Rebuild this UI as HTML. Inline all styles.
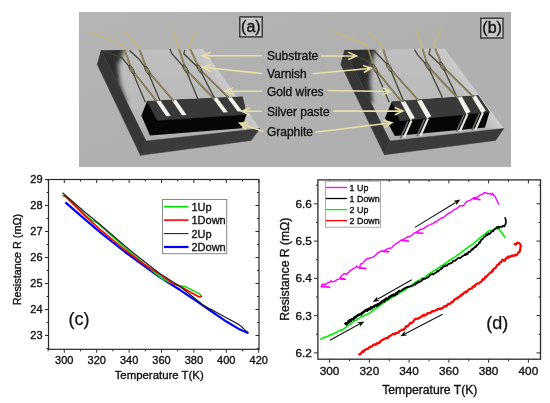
<!DOCTYPE html>
<html><head><meta charset="utf-8"><style>
html,body{margin:0;padding:0;background:#fff;width:550px;height:403px;overflow:hidden}
svg{position:absolute;left:0;top:0;display:block}
text{font-family:"Liberation Sans",Arial,sans-serif;fill:#111;stroke:#111;stroke-width:0.35px}
.tc{font-size:11px}
.tc2{font-size:10.8px}
.tc3{font-size:11.4px}
.td{font-size:11.8px}
.td2{font-size:12.2px}
.tl{font-size:8.9px}
.lab{font-size:18px;stroke-width:0.25px}
.tt{font-size:12px;fill:#151515}
.tb{font-size:16px;fill:#111}
</style></head><body>
<svg width="550" height="403" viewBox="0 0 550 403">
<defs>
<linearGradient id="bg" x1="0" y1="0" x2="1" y2="1">
<stop offset="0" stop-color="#b5b5b5"/><stop offset="0.5" stop-color="#b0b0b0"/><stop offset="1" stop-color="#b0b0b0"/>
</linearGradient>
<linearGradient id="topA" gradientUnits="userSpaceOnUse" x1="112" y1="98" x2="140" y2="86">
<stop offset="0" stop-color="#262626"/><stop offset="0.25" stop-color="#3a3a3a"/><stop offset="1" stop-color="#c3c3c3"/>
</linearGradient>
<linearGradient id="topB" gradientUnits="userSpaceOnUse" x1="357" y1="98" x2="385" y2="86">
<stop offset="0" stop-color="#262626"/><stop offset="0.25" stop-color="#3a3a3a"/><stop offset="1" stop-color="#c3c3c3"/>
</linearGradient>
<filter id="bl" x="-50%" y="-50%" width="200%" height="200%"><feGaussianBlur stdDeviation="2.2"/></filter>
<linearGradient id="tf" gradientUnits="userSpaceOnUse" x1="0" y1="50" x2="0" y2="142"><stop offset="0" stop-color="#bfbfbf"/><stop offset="0.6" stop-color="#bababa"/><stop offset="1" stop-color="#adadad"/></linearGradient>
<linearGradient id="lf" x1="0" y1="0" x2="1" y2="0">
<stop offset="0" stop-color="#474747"/><stop offset="1" stop-color="#333"/>
</linearGradient>
</defs>
<rect x="79" y="12" width="432" height="155" fill="url(#bg)"/>
<clipPath id="ca"><polygon points="101.2,50.3 203.0,49.0 259.9,128.6 146.0,141.0"/></clipPath>
<polygon points="101.2,50.3 203.0,49.0 259.9,128.6 146.0,141.0" fill="url(#tf)" stroke="#b8b8b8" stroke-width="0.4"/>
<linearGradient id="cag" gradientUnits="userSpaceOnUse" x1="189" y1="59" x2="205" y2="48"><stop offset="0" stop-color="#c8c8c8" stop-opacity="0"/><stop offset="1" stop-color="#cdcdcd" stop-opacity="1"/></linearGradient>
<g clip-path="url(#ca)"><polygon points="203.0,49.0 259.9,128.6 219.9,128.6 163.0,49.0" fill="url(#cag)"/>
<polygon points="90.0,44.0 126.0,44.0 122.0,56.0 118.0,65.0 120.0,83.0 124.0,95.0 127.0,103.0 110.0,103.0" fill="#2e2e2e" filter="url(#bl)"/></g>
<polygon points="101.2,50.3 97.4,64.6 140.5,155.3 146.0,141.0" fill="#363636" stroke="#363636" stroke-width="0.7" stroke-linejoin="round"/>
<polygon points="146.0,141.0 259.9,128.6 251.0,140.5 140.5,155.3" fill="#3b3b3b" stroke="#3b3b3b" stroke-width="0.5" stroke-linejoin="round"/>
<clipPath id="cb"><polygon points="344.7,50.1 444.5,48.5 503.8,128.5 389.8,141.0"/></clipPath>
<polygon points="344.7,50.1 444.5,48.5 503.8,128.5 389.8,141.0" fill="url(#tf)" stroke="#b8b8b8" stroke-width="0.4"/>
<linearGradient id="cbg" gradientUnits="userSpaceOnUse" x1="430.5" y1="58.5" x2="446.5" y2="47.5"><stop offset="0" stop-color="#c8c8c8" stop-opacity="0"/><stop offset="1" stop-color="#cdcdcd" stop-opacity="1"/></linearGradient>
<g clip-path="url(#cb)"><polygon points="444.5,48.5 503.8,128.5 463.8,128.5 404.5,48.5" fill="url(#cbg)"/>
<polygon points="334.0,44.0 376.0,44.0 374.0,56.0 371.0,66.0 370.0,83.0 372.0,95.0 373.0,103.0 354.0,103.0" fill="#2e2e2e" filter="url(#bl)"/></g>
<polygon points="344.7,50.1 341.0,64.6 384.5,154.8 389.8,141.0" fill="#363636" stroke="#363636" stroke-width="0.7" stroke-linejoin="round"/>
<polygon points="389.8,141.0 503.8,128.5 495.6,140.4 384.5,154.8" fill="#3b3b3b" stroke="#3b3b3b" stroke-width="0.5" stroke-linejoin="round"/>
<polygon points="147.0,101.2 242.5,96.8 246.5,114.6 241.7,128.2 150.0,135.6 141.4,115.8" fill="#060606"/>
<polygon points="147.0,101.2 242.5,96.8 246.5,114.6 157.3,120.3" fill="#393939" stroke="#393939" stroke-width="0.4" stroke-linejoin="round"/>
<polygon points="391.8,101.8 478.2,95.5 489.5,112.0 485.0,127.5 394.9,135.9 385.0,117.9" fill="#060606"/>
<polygon points="391.8,101.8 478.2,95.5 489.5,112.0 399.8,121.0" fill="#393939" stroke="#393939" stroke-width="0.4" stroke-linejoin="round"/>
<polygon points="155.8,100.8 160.4,100.6 170.8,116.0 166.2,116.3" fill="#f2f2ec"/>
<polygon points="171.6,100.1 176.2,99.9 186.6,114.9 182.0,115.3" fill="#f2f2ec"/>
<polygon points="212.8,98.2 217.4,98.0 227.9,112.2 223.3,112.5" fill="#f2f2ec"/>
<polygon points="227.2,97.5 231.8,97.3 242.3,111.2 237.7,111.5" fill="#f2f2ec"/>
<polygon points="400.7,102.0 405.1,100.9 414.9,117.9 410.5,120.1" fill="#f2f2ec"/>
<polygon points="417.1,100.9 421.5,99.8 431.3,116.2 426.9,118.4" fill="#f2f2ec"/>
<polygon points="457.5,97.6 461.8,96.5 470.5,111.8 466.2,114.0" fill="#f2f2ec"/>
<polygon points="471.6,96.5 476.0,95.5 485.8,110.7 481.5,112.9" fill="#f2f2ec"/>
<path d="M411.5,120.5l-7.5,17" stroke="#e8e8e2" stroke-width="2.1"/>
<path d="M408.0,121.3l-7.5,17" stroke="#6a6a6a" stroke-width="1.6"/>
<path d="M428.0,118.5l-7.5,17" stroke="#e8e8e2" stroke-width="2.1"/>
<path d="M424.5,119.3l-7.5,17" stroke="#6a6a6a" stroke-width="1.6"/>
<path d="M467.5,114.0l-7.5,17" stroke="#e8e8e2" stroke-width="2.1"/>
<path d="M464.0,114.8l-7.5,17" stroke="#6a6a6a" stroke-width="1.6"/>
<path d="M483.0,112.5l-7.5,17" stroke="#e8e8e2" stroke-width="2.1"/>
<path d="M479.5,113.3l-7.5,17" stroke="#6a6a6a" stroke-width="1.6"/>
<polyline points="102.0,50.5 122.1,57.9 131.6,69.5 145.3,102.2" fill="none" stroke="#45443a" stroke-width="1.3"/>
<polyline points="129.5,50.5 139.0,58.9 147.4,70.5 160.1,101.1" fill="none" stroke="#45443a" stroke-width="1.3"/>
<polyline points="169.9,48.8 171.9,53.7 185.5,69.0 197.7,98.4" fill="none" stroke="#45443a" stroke-width="1.3"/>
<polyline points="184.8,49.8 183.8,53.7 199.5,69.0 214.6,98.4" fill="none" stroke="#45443a" stroke-width="1.3"/>
<polyline points="345.6,50.8 369.1,61.9 374.7,68.6 389.2,102.2" fill="none" stroke="#45443a" stroke-width="1.3"/>
<polyline points="373.6,50.3 389.2,66.4 403.7,101.5" fill="none" stroke="#45443a" stroke-width="1.3"/>
<polyline points="414.5,49.6 417.9,55.2 427.9,66.4 442.5,97.7" fill="none" stroke="#45443a" stroke-width="1.3"/>
<polyline points="430.2,48.5 429.0,54.1 442.5,66.4 457.0,97.0" fill="none" stroke="#45443a" stroke-width="1.3"/>
<polyline points="87.3,30.9 123.1,45.2 131.6,69.5 156.9,101.5" fill="none" stroke="#c4b67e" stroke-width="1.5" stroke-linejoin="round"/>
<polyline points="123.1,30.9 137.9,45.2 147.4,70.5 173.8,101.0" fill="none" stroke="#c4b67e" stroke-width="1.5" stroke-linejoin="round"/>
<polyline points="172.9,29.9 185.5,69.0 213.6,98.4" fill="none" stroke="#c4b67e" stroke-width="1.5" stroke-linejoin="round"/>
<polyline points="197.7,29.9 188.8,45.8 199.5,69.0 228.5,97.6" fill="none" stroke="#c4b67e" stroke-width="1.5" stroke-linejoin="round"/>
<polyline points="331.1,30.2 366.9,45.2 374.7,68.6 401.5,101.5" fill="none" stroke="#c4b67e" stroke-width="1.5" stroke-linejoin="round"/>
<polyline points="366.9,30.2 381.4,44.0 389.2,67.5 418.5,100.5" fill="none" stroke="#c4b67e" stroke-width="1.5" stroke-linejoin="round"/>
<polyline points="416.8,30.2 427.9,66.4 458.1,98.3" fill="none" stroke="#c4b67e" stroke-width="1.5" stroke-linejoin="round"/>
<polyline points="441.3,30.2 433.5,44.0 442.5,66.4 473.7,97.2" fill="none" stroke="#c4b67e" stroke-width="1.5" stroke-linejoin="round"/>
<g clip-path="url(#ca)">
<polyline points="87.3,30.9 123.1,45.2 131.6,69.5 156.9,101.5" fill="none" stroke="#635d47" stroke-width="1.7" stroke-linejoin="round"/>
<polyline points="87.3,30.9 123.1,45.2 131.6,69.5 156.9,101.5" fill="none" stroke="#b2a571" stroke-width="0.7" stroke-linejoin="round"/>
<polyline points="123.1,30.9 137.9,45.2 147.4,70.5 173.8,101.0" fill="none" stroke="#635d47" stroke-width="1.7" stroke-linejoin="round"/>
<polyline points="123.1,30.9 137.9,45.2 147.4,70.5 173.8,101.0" fill="none" stroke="#b2a571" stroke-width="0.7" stroke-linejoin="round"/>
<polyline points="172.9,29.9 185.5,69.0 213.6,98.4" fill="none" stroke="#635d47" stroke-width="1.7" stroke-linejoin="round"/>
<polyline points="172.9,29.9 185.5,69.0 213.6,98.4" fill="none" stroke="#b2a571" stroke-width="0.7" stroke-linejoin="round"/>
<polyline points="197.7,29.9 188.8,45.8 199.5,69.0 228.5,97.6" fill="none" stroke="#635d47" stroke-width="1.7" stroke-linejoin="round"/>
<polyline points="197.7,29.9 188.8,45.8 199.5,69.0 228.5,97.6" fill="none" stroke="#b2a571" stroke-width="0.7" stroke-linejoin="round"/>
</g>
<g clip-path="url(#cb)">
<polyline points="331.1,30.2 366.9,45.2 374.7,68.6 401.5,101.5" fill="none" stroke="#635d47" stroke-width="1.7" stroke-linejoin="round"/>
<polyline points="331.1,30.2 366.9,45.2 374.7,68.6 401.5,101.5" fill="none" stroke="#b2a571" stroke-width="0.7" stroke-linejoin="round"/>
<polyline points="366.9,30.2 381.4,44.0 389.2,67.5 418.5,100.5" fill="none" stroke="#635d47" stroke-width="1.7" stroke-linejoin="round"/>
<polyline points="366.9,30.2 381.4,44.0 389.2,67.5 418.5,100.5" fill="none" stroke="#b2a571" stroke-width="0.7" stroke-linejoin="round"/>
<polyline points="416.8,30.2 427.9,66.4 458.1,98.3" fill="none" stroke="#635d47" stroke-width="1.7" stroke-linejoin="round"/>
<polyline points="416.8,30.2 427.9,66.4 458.1,98.3" fill="none" stroke="#b2a571" stroke-width="0.7" stroke-linejoin="round"/>
<polyline points="441.3,30.2 433.5,44.0 442.5,66.4 473.7,97.2" fill="none" stroke="#635d47" stroke-width="1.7" stroke-linejoin="round"/>
<polyline points="441.3,30.2 433.5,44.0 442.5,66.4 473.7,97.2" fill="none" stroke="#b2a571" stroke-width="0.7" stroke-linejoin="round"/>
</g>
<ellipse cx="131.6" cy="69.5" rx="5" ry="1.7" transform="rotate(60 131.6 69.5)" fill="none" stroke="#45443a" stroke-width="0.8"/>
<ellipse cx="147.4" cy="70.5" rx="5" ry="1.7" transform="rotate(60 147.4 70.5)" fill="none" stroke="#45443a" stroke-width="0.8"/>
<ellipse cx="185.5" cy="69" rx="5" ry="1.7" transform="rotate(60 185.5 69)" fill="none" stroke="#45443a" stroke-width="0.8"/>
<ellipse cx="199.5" cy="69" rx="5" ry="1.7" transform="rotate(60 199.5 69)" fill="none" stroke="#45443a" stroke-width="0.8"/>
<ellipse cx="374.7" cy="68.6" rx="5" ry="1.7" transform="rotate(60 374.7 68.6)" fill="none" stroke="#45443a" stroke-width="0.8"/>
<ellipse cx="389.2" cy="67.5" rx="5" ry="1.7" transform="rotate(60 389.2 67.5)" fill="none" stroke="#45443a" stroke-width="0.8"/>
<ellipse cx="427.9" cy="66.4" rx="5" ry="1.7" transform="rotate(60 427.9 66.4)" fill="none" stroke="#45443a" stroke-width="0.8"/>
<ellipse cx="442.5" cy="66.4" rx="5" ry="1.7" transform="rotate(60 442.5 66.4)" fill="none" stroke="#45443a" stroke-width="0.8"/>
<path d="M262.0,55.8L202.5,55.8M210.5,52.2L202.5,55.8L210.5,59.4" stroke="#e9dfa8" stroke-width="1.55" fill="none" stroke-linejoin="miter"/>
<path d="M262.0,73.5L202.7,67.2M211.0,64.5L202.7,67.2L210.3,71.6" stroke="#e9dfa8" stroke-width="1.55" fill="none" stroke-linejoin="miter"/>
<path d="M262.0,91.2L225.4,91.2M233.4,87.6L225.4,91.2L233.4,94.8" stroke="#e9dfa8" stroke-width="1.55" fill="none" stroke-linejoin="miter"/>
<path d="M262.0,111.3L241.8,111.3M249.8,107.7L241.8,111.3L249.8,114.9" stroke="#e9dfa8" stroke-width="1.55" fill="none" stroke-linejoin="miter"/>
<path d="M263.4,131.4L239.6,123.2M248.3,122.4L239.6,123.2L246.0,129.2" stroke="#e9dfa8" stroke-width="1.55" fill="none" stroke-linejoin="miter"/>
<path d="M320.9,55.9L356.4,55.9M348.4,59.5L356.4,55.9L348.4,52.3" stroke="#e9dfa8" stroke-width="1.55" fill="none" stroke-linejoin="miter"/>
<path d="M312.7,73.7L371.4,68.2M363.8,72.5L371.4,68.2L363.1,65.4" stroke="#e9dfa8" stroke-width="1.55" fill="none" stroke-linejoin="miter"/>
<path d="M327.7,90.6L390.5,91.4M382.5,94.9L390.5,91.4L382.5,87.7" stroke="#e9dfa8" stroke-width="1.55" fill="none" stroke-linejoin="miter"/>
<path d="M333.2,111.1L402.8,111.1M394.8,114.7L402.8,111.1L394.8,107.5" stroke="#e9dfa8" stroke-width="1.55" fill="none" stroke-linejoin="miter"/>
<path d="M315.5,132.3L391.9,122.8M384.4,127.4L391.9,122.8L383.5,120.2" stroke="#e9dfa8" stroke-width="1.55" fill="none" stroke-linejoin="miter"/>
<text x="266.9" y="59.9" class="tt">Substrate</text>
<text x="266.9" y="77.7" class="tt">Varnish</text>
<text x="266.9" y="95.8" class="tt">Gold wires</text>
<text x="266.9" y="115.7" class="tt">Silver paste</text>
<text x="266.9" y="135.5" class="tt">Graphite</text>
<rect x="239.8" y="16.9" width="22.4" height="20" fill="#c6c6c6" stroke="#2a2a2a" stroke-width="1.3"/>
<text x="250.9" y="31.8" class="tb" text-anchor="middle">(a)</text>
<rect x="480.8" y="18.2" width="22.2" height="19.8" fill="#c6c6c6" stroke="#2a2a2a" stroke-width="1.3"/>
<text x="492.1" y="33.2" class="tb" text-anchor="middle">(b)</text>
<path d="M48.10,349.3v2M48.10,179.5v2M64.30,349.3v3.5M64.30,179.5v3.5M80.50,349.3v2M80.50,179.5v2M96.70,349.3v3.5M96.70,179.5v3.5M112.90,349.3v2M112.90,179.5v2M129.10,349.3v3.5M129.10,179.5v3.5M145.30,349.3v2M145.30,179.5v2M161.50,349.3v3.5M161.50,179.5v3.5M177.70,349.3v2M177.70,179.5v2M193.90,349.3v3.5M193.90,179.5v3.5M210.10,349.3v2M210.10,179.5v2M226.30,349.3v3.5M226.30,179.5v3.5M242.50,349.3v2M242.50,179.5v2M258.70,349.3v3.5M258.70,179.5v3.5M48.5,348.50h-2M259.0,348.50h-2M48.5,335.50h-3.5M259.0,335.50h-3.5M48.5,322.50h-2M259.0,322.50h-2M48.5,309.50h-3.5M259.0,309.50h-3.5M48.5,296.50h-2M259.0,296.50h-2M48.5,283.50h-3.5M259.0,283.50h-3.5M48.5,270.50h-2M259.0,270.50h-2M48.5,257.50h-3.5M259.0,257.50h-3.5M48.5,244.50h-2M259.0,244.50h-2M48.5,231.50h-3.5M259.0,231.50h-3.5M48.5,218.50h-2M259.0,218.50h-2M48.5,205.50h-3.5M259.0,205.50h-3.5M48.5,192.50h-2M259.0,192.50h-2M48.5,179.50h-3.5M259.0,179.50h-3.5" stroke="#2a2a2a" stroke-width="1" fill="none"/>
<rect x="48.5" y="179.5" width="210.5" height="169.8" fill="none" stroke="#2a2a2a" stroke-width="1.2"/>
<text x="64.3" y="363.8" class="tc" text-anchor="middle">300</text>
<text x="96.7" y="363.8" class="tc" text-anchor="middle">320</text>
<text x="129.1" y="363.8" class="tc" text-anchor="middle">340</text>
<text x="161.5" y="363.8" class="tc" text-anchor="middle">360</text>
<text x="193.9" y="363.8" class="tc" text-anchor="middle">380</text>
<text x="226.3" y="363.8" class="tc" text-anchor="middle">400</text>
<text x="258.7" y="363.8" class="tc" text-anchor="middle">420</text>
<text x="42.6" y="339.2" class="tc" text-anchor="end">23</text>
<text x="42.6" y="313.2" class="tc" text-anchor="end">24</text>
<text x="42.6" y="287.2" class="tc" text-anchor="end">25</text>
<text x="42.6" y="261.2" class="tc" text-anchor="end">26</text>
<text x="42.6" y="235.2" class="tc" text-anchor="end">27</text>
<text x="42.6" y="209.2" class="tc" text-anchor="end">28</text>
<text x="42.6" y="183.2" class="tc" text-anchor="end">29</text>
<text x="159.2" y="379.2" class="tc3" text-anchor="middle">Temperature T(K)</text>
<text transform="translate(21.2,259.6) rotate(-90)" class="tc2" text-anchor="middle">Resistance R (mΩ)</text>
<text x="79.1" y="324.6" class="lab" text-anchor="middle">(c)</text>
<polyline points="65.4,202.4 85.0,219.3 100.0,232.2 125.0,252.0 160.0,277.4 179.8,289.8 201.7,304.7 207.3,308.7 226.8,321.8 240.0,329.6 248.5,333.3" fill="none" stroke="#0000ff" stroke-width="2.2" stroke-linejoin="round"/>
<polyline points="62.2,195.4 68.9,198.8 85.0,214.6 92.0,220.6 96.8,222.6 100.0,225.1 125.0,248.0 163.0,279.4 170.9,282.9 179.8,285.8 185.8,286.8 199.7,293.8 200.7,295.3" fill="none" stroke="#00e000" stroke-width="1.5" stroke-linejoin="round"/>
<polyline points="64.0,194.9 85.0,215.9 100.0,229.3 125.0,250.0 144.8,264.8 160.0,274.4 171.6,282.7 179.8,286.3 189.8,291.8 198.7,296.7 201.2,296.7 200.7,295.3" fill="none" stroke="#ff0000" stroke-width="1.6" stroke-linejoin="round"/>
<polyline points="62.5,192.7 85.0,212.2 100.0,224.5 125.0,246.0 135.6,254.7 160.0,273.7 179.8,286.3 202.7,304.7 210.0,308.9 224.5,316.8 238.6,324.4 241.5,326.5 244.5,329.6 248.0,332.4" fill="none" stroke="#222" stroke-width="1.2" stroke-linejoin="round"/>
<rect x="162.5" y="199.5" width="64.2" height="54.2" fill="#fff" stroke="#888" stroke-width="1"/>
<path d="M164,206.7H188.5" stroke="#00e000" stroke-width="1.6"/>
<text x="191.5" y="210.7" class="tc">1Up</text>
<path d="M164,220.1H188.5" stroke="#ff0000" stroke-width="1.6"/>
<text x="191.5" y="224.1" class="tc">1Down</text>
<path d="M164,233.6H188.5" stroke="#222" stroke-width="1.1"/>
<text x="191.5" y="237.6" class="tc">2Up</text>
<path d="M164,247.0H188.5" stroke="#0000ff" stroke-width="2.2"/>
<text x="191.5" y="251.0" class="tc">2Down</text>
<path d="M329.60,359.2v3.5M329.60,179.9v3.5M349.48,359.2v2M349.48,179.9v2M369.36,359.2v3.5M369.36,179.9v3.5M389.24,359.2v2M389.24,179.9v2M409.12,359.2v3.5M409.12,179.9v3.5M429.00,359.2v2M429.00,179.9v2M448.88,359.2v3.5M448.88,179.9v3.5M468.76,359.2v2M468.76,179.9v2M488.64,359.2v3.5M488.64,179.9v3.5M508.52,359.2v2M508.52,179.9v2M528.40,359.2v3.5M528.40,179.9v3.5M317.9,352.90h-4M540.5,352.90h-4M317.9,334.26h-2M540.5,334.26h-2M317.9,315.63h-4M540.5,315.63h-4M317.9,296.99h-2M540.5,296.99h-2M317.9,278.35h-4M540.5,278.35h-4M317.9,259.71h-2M540.5,259.71h-2M317.9,241.08h-4M540.5,241.08h-4M317.9,222.44h-2M540.5,222.44h-2M317.9,203.80h-4M540.5,203.80h-4M317.9,185.16h-2M540.5,185.16h-2" stroke="#2a2a2a" stroke-width="1" fill="none"/>
<rect x="317.9" y="179.9" width="222.6" height="179.3" fill="none" stroke="#2a2a2a" stroke-width="1.3"/>
<text x="329.6" y="374.6" class="td" text-anchor="middle">300</text>
<text x="369.4" y="374.6" class="td" text-anchor="middle">320</text>
<text x="409.1" y="374.6" class="td" text-anchor="middle">340</text>
<text x="448.9" y="374.6" class="td" text-anchor="middle">360</text>
<text x="488.6" y="374.6" class="td" text-anchor="middle">380</text>
<text x="528.4" y="374.6" class="td" text-anchor="middle">400</text>
<text x="311.8" y="357.0" class="td" text-anchor="end">6.2</text>
<text x="311.8" y="319.7" class="td" text-anchor="end">6.3</text>
<text x="311.8" y="282.4" class="td" text-anchor="end">6.4</text>
<text x="311.8" y="245.2" class="td" text-anchor="end">6.5</text>
<text x="311.8" y="207.9" class="td" text-anchor="end">6.6</text>
<text x="429.8" y="394.2" class="td2" text-anchor="middle">Temperature T(K)</text>
<text transform="translate(289.2,269.2) rotate(-90)" class="td2" text-anchor="middle">Resistance R (mΩ)</text>
<text x="497.3" y="329" class="lab" text-anchor="middle">(d)</text>
<polyline points="320.5,286.5 321.8,286.4 323.2,287.0 324.5,286.5 325.9,287.1 327.2,287.0 328.6,286.8 329.9,287.3 328.5,286.7 327.0,286.9 325.6,286.4 324.2,286.3 322.7,286.5 321.3,286.7 322.0,284.4 323.3,284.2 324.6,284.3 325.9,284.2 327.1,283.3 328.4,282.4 329.6,282.4 330.9,280.8 332.6,281.9 334.4,281.6 335.5,280.7 336.6,279.9 337.7,279.4 338.8,279.1 340.1,278.6 341.4,279.1 342.7,279.3 344.0,279.2 345.3,279.4 343.9,278.7 342.5,278.5 341.0,278.4 339.6,278.7 340.4,277.4 341.2,276.2 342.0,275.4 342.8,274.3 344.1,273.6 345.3,273.7 346.8,274.5 347.8,272.9 348.8,272.2 349.7,271.0 350.7,270.3 352.2,269.4 353.7,268.2 355.2,267.9 356.7,266.0 358.7,267.8 360.2,268.3 361.6,267.8 363.1,268.2 364.5,267.9 366.0,268.7 364.7,268.6 363.4,268.2 362.1,268.3 360.8,267.6 359.5,267.8 360.1,265.8 360.6,264.0 362.0,263.7 362.9,263.0 363.8,262.1 364.6,260.7 365.5,259.9 367.0,258.6 368.4,258.6 369.9,257.8 371.4,257.7 372.9,257.1 374.4,256.1 375.4,255.2 376.4,254.5 377.4,252.8 378.7,252.6 380.0,251.6 381.3,250.9 382.8,251.0 384.3,251.8 385.8,251.3 387.3,251.5 388.8,251.8 387.5,252.1 386.1,251.1 384.8,251.3 383.4,251.2 382.1,251.4 383.7,250.8 385.2,250.2 386.8,249.1 388.0,248.7 389.2,248.2 390.5,248.2 391.7,247.8 393.0,246.0 394.4,245.0 395.7,244.0 396.9,243.1 398.2,242.3 399.4,241.5 400.7,240.2 402.0,240.0 403.3,240.5 404.6,240.6 406.0,240.9 407.3,241.4 408.6,241.2 407.2,240.8 405.8,240.8 404.3,240.6 402.9,239.8 401.5,240.5 403.1,239.5 404.6,238.8 406.1,237.9 407.6,236.8 409.1,236.5 410.6,235.9 411.7,235.6 412.8,234.2 413.9,233.4 415.0,232.7 416.3,232.8 417.6,233.0 418.9,232.9 420.3,232.9 421.6,233.2 422.9,233.2 421.5,233.3 420.1,232.8 418.6,233.4 417.2,233.0 415.8,232.3 417.0,231.6 418.3,230.9 419.5,230.1 420.8,229.2 422.1,229.2 423.4,228.7 424.7,227.6 426.0,226.9 427.3,225.9 428.6,225.2 430.0,224.8 431.3,224.0 432.7,223.9 434.0,222.6 435.1,221.7 436.2,222.0 437.4,220.8 438.5,219.7 439.6,219.4 440.7,218.2 441.8,218.0 442.9,217.8 444.0,217.0 445.1,216.1 446.3,215.0 447.4,214.4 448.5,213.3 449.6,213.1 450.8,212.1 451.9,211.5 453.4,210.2 455.0,209.2 456.1,208.9 457.3,208.2 458.6,207.0 460.0,205.8 461.8,205.8 463.6,205.7 464.5,204.0 465.5,203.1 466.4,201.7 468.2,200.9 470.0,200.4 471.4,199.5 472.7,198.4 474.2,198.9 475.6,199.3 477.1,198.9 478.5,199.5 480.0,199.7 478.7,199.5 477.4,198.7 476.1,198.4 474.8,198.2 473.5,198.0 474.8,197.4 476.0,197.2 477.3,196.8 478.8,196.0 480.3,194.8 481.8,194.3 483.0,193.9 484.3,192.6 485.5,192.7 487.3,193.5 489.1,193.9 490.5,193.3 491.8,195.0 492.7,193.6 493.6,195.2 494.6,195.7 495.5,197.1 496.1,198.8 496.7,199.8 497.3,201.3 498.2,203.4 499.1,204.5" fill="none" stroke="#ff00ff" stroke-width="1.4" stroke-linejoin="round"/>
<polyline points="320.2,339.6 321.8,338.6 323.5,337.8 325.1,337.1 326.8,336.8 328.4,336.0 329.9,334.9 331.4,334.7 332.9,334.1 334.4,333.2 335.9,332.4 337.3,331.8 338.8,330.9 340.3,330.1 341.8,330.1 343.3,329.2 344.6,328.1 345.9,327.4 347.3,326.1 348.6,325.4 349.9,324.4 351.3,323.1 352.7,322.2 354.1,321.3 355.6,320.4 357.0,319.7 358.4,318.6 359.8,317.8 361.2,316.9 362.7,316.6 364.1,315.6 365.5,314.9 366.9,314.3 368.4,313.8 369.8,312.8 371.0,312.2 372.3,311.1 373.5,310.2 374.8,309.4 376.0,308.2 377.2,307.6 378.5,306.6 379.7,305.6 381.1,305.0 382.4,303.6 383.8,302.8 385.1,301.9 386.5,300.7 387.9,299.8 389.3,299.0 390.7,298.2 392.1,297.5 393.5,296.3 394.9,295.7 396.3,294.7 397.7,293.9 399.1,293.3 400.6,292.3 402.0,291.5 403.4,290.8 404.8,290.0 406.1,288.8 407.4,288.0 408.8,287.0 410.1,286.0 411.4,285.2 412.7,284.1 414.1,283.2 415.4,282.2 416.7,281.6 418.0,280.7 419.4,280.1 420.7,279.4 422.0,278.2 423.4,277.7 424.7,277.2 426.0,276.3 427.3,275.0 428.6,274.2 430.0,273.5 431.3,272.5 432.6,271.7 434.2,270.5 435.8,269.7 437.4,268.6 438.9,267.7 440.4,266.2 441.9,265.6 443.4,264.6 444.9,263.3 446.4,262.7 447.9,261.8 449.3,260.3 450.8,259.8 452.3,258.4 453.6,257.7 454.8,257.1 456.1,256.2 457.3,255.0 458.6,254.3 459.8,253.5 461.0,252.5 462.3,251.5 463.5,250.6 464.7,250.0 466.0,248.6 467.2,248.0 468.4,247.1 469.7,246.0 470.9,245.3 472.2,244.6 473.4,243.6 474.8,242.2 476.1,241.6 477.5,240.3 478.8,239.2 480.2,237.6 481.9,236.4 483.7,234.9 485.0,234.3 486.3,232.9 487.6,231.7 488.9,230.8 490.6,230.6 492.4,230.1 494.1,229.4 496.2,228.9 498.4,229.0 500.2,230.8 501.2,232.3 502.3,233.4 503.3,234.7 504.4,236.5 505.4,237.8" fill="none" stroke="#00ee00" stroke-width="1.6" stroke-linejoin="round"/>
<polyline points="345.0,324.6 345.7,323.4 346.4,324.4 347.1,323.3 347.8,323.0 348.5,321.2 349.2,322.0 349.9,320.0 350.6,321.0 351.3,319.9 352.0,319.2 352.7,319.2 353.4,319.4 354.1,317.8 354.9,317.1 355.6,317.4 356.3,316.5 357.0,315.8 357.7,315.5 358.4,314.8 359.1,314.7 359.8,314.5 360.5,314.0 361.3,314.4 362.0,313.1 362.7,313.0 363.4,311.9 364.2,311.8 364.9,310.8 365.6,310.7 366.3,309.8 367.1,310.7 367.8,309.9 368.6,308.8 369.3,308.9 370.1,309.3 370.9,307.4 371.6,308.2 372.4,307.1 373.2,306.8 373.9,306.9 374.7,305.7 375.4,305.5 376.2,305.5 376.9,305.7 377.6,304.2 378.3,304.7 379.1,304.1 379.8,303.6 380.5,302.8 381.2,302.4 382.0,301.5 382.7,301.2 383.4,300.6 384.1,301.3 384.9,299.9 385.6,299.2 386.3,298.5 387.0,299.3 387.7,299.0 388.4,298.2 389.2,297.1 389.9,296.6 390.6,296.3 391.3,296.2 392.0,295.2 392.7,295.3 393.5,294.6 394.2,295.4 394.9,295.1 395.6,293.9 396.3,293.0 397.0,293.9 397.7,292.3 398.4,292.0 399.1,291.0 399.9,291.3" fill="none" stroke="#000" stroke-width="2.5" stroke-linejoin="round"/>
<polyline points="399.9,291.3 400.6,291.1 401.3,290.7 402.0,289.8 402.7,290.0 403.4,288.7 404.1,288.8 404.8,288.1 405.6,288.3 406.3,287.3 407.1,286.9 407.9,287.1 408.6,286.6 409.4,286.9 410.2,286.4 411.0,286.5 411.7,286.0 412.5,285.7 413.3,285.7 414.0,284.4 414.8,284.0 415.5,284.8 416.2,282.8 416.9,283.4 417.6,282.9 418.3,281.4 419.0,282.4 419.8,282.1 420.5,281.2 421.2,280.9 421.9,280.6 422.6,279.0 423.3,279.3 424.0,278.8 424.7,279.0 425.4,278.6 426.1,278.3 426.9,277.5 427.6,277.7 428.3,276.9 429.0,276.6 429.7,275.4 430.4,274.6 431.2,274.5 431.9,274.5 432.6,273.7 433.3,274.6 434.0,273.7 434.7,273.4 435.3,273.0 436.0,272.7 436.7,271.9 437.4,270.6 438.1,271.5 438.8,270.9 439.4,270.0 440.1,269.6 440.8,269.3 441.5,267.7 442.2,268.4 442.9,267.1 443.5,266.2 444.2,266.1 444.9,266.4 445.6,265.1 446.4,265.7 447.1,265.7 447.9,264.5 448.6,263.9 449.3,263.7 450.1,263.7 450.8,263.4 451.6,262.8 452.3,262.5 453.1,261.0 453.8,260.7 454.6,260.5 455.3,260.9 456.1,259.7 456.8,259.7 457.6,258.3 458.3,258.0 459.1,257.9 459.8,258.2 460.5,257.8 461.3,257.3 462.0,256.2 462.8,256.2 463.5,255.6 464.2,255.2 465.0,254.1 465.7,255.1 466.5,253.4 467.2,254.4 467.8,253.8 468.4,251.6 469.1,251.9 469.7,252.1 470.3,251.8 470.9,250.4 471.6,249.6 472.2,249.0 472.8,249.8 473.4,248.0 474.1,248.1 474.7,246.9 475.3,246.9 475.9,247.1 476.5,245.0 477.1,245.6 477.6,244.5 478.2,244.5 478.8,243.6 479.4,242.1 480.0,242.7 480.6,241.4 481.1,239.9 481.7,239.3 482.3,239.5 482.9,238.8 483.4,237.9 484.0,237.0 484.6,236.8 485.2,236.1 485.7,236.4 486.3,234.3 487.0,235.2 487.7,234.9 488.5,233.2 489.2,234.2 489.9,233.4 490.6,233.3 491.2,231.7 491.9,231.4 492.5,230.9 493.1,231.5 493.7,230.3 494.4,229.3 495.0,229.0 495.7,228.3 496.4,227.4 497.0,227.1 497.7,227.9 498.4,226.5 499.3,227.9 500.1,226.8 501.0,227.0 501.9,227.0 502.8,225.9 503.6,225.8 504.5,226.4 504.9,225.4 505.4,224.4 505.8,223.2 505.8,222.9 505.8,222.0 505.8,220.5 505.8,219.9 505.1,217.8 504.5,217.8" fill="none" stroke="#000" stroke-width="1.7" stroke-linejoin="round"/>
<polyline points="358.7,355.0 359.5,354.1 360.3,354.0 361.1,353.2 361.9,352.1 362.7,351.2 363.4,352.0 364.2,350.2 365.0,350.1 365.8,349.4 366.6,348.8 367.4,348.9 368.2,348.8 369.1,347.3 369.9,347.5 370.7,346.5 371.6,346.5 372.4,345.8 373.2,345.0 374.1,344.6 374.9,344.3 375.8,344.8 376.6,343.7 377.5,342.8 378.3,343.3 379.2,343.0 380.1,341.7 380.9,340.7 381.8,340.3 382.6,339.7 383.5,339.6 384.3,338.7 385.1,338.5 385.9,338.1 386.7,338.1 387.5,338.1 388.2,337.4 389.0,336.5 389.8,336.0 390.6,335.7 391.4,335.1 392.2,334.6 393.1,333.8 394.0,333.8 394.9,334.4 395.7,332.8 396.6,333.0 397.5,332.9 398.4,332.8 399.2,331.3 400.0,330.9 400.9,330.3 401.7,330.0 402.5,329.5 403.4,329.8 404.2,329.1 405.0,328.6 405.7,326.7 406.4,326.1 407.1,326.5 407.8,326.2 408.5,325.0 409.2,324.6 409.9,323.1 410.7,323.1 411.4,323.3 412.1,322.6 412.8,322.0 413.5,321.6 414.2,319.9 414.9,319.1 415.7,318.8 416.5,318.9 417.4,318.7 418.2,318.7 419.0,318.0 419.8,317.5 420.7,317.2 421.5,316.3 422.3,316.1 423.1,315.0 424.0,315.7 424.8,314.6 425.6,315.3 426.5,314.5 427.3,313.6 428.1,313.0 429.0,312.9 429.8,313.1 430.7,312.8 431.6,311.5 432.6,311.1 433.5,311.4 434.4,311.1 435.4,310.4 436.3,309.8 437.2,310.0 438.1,308.7 439.0,308.8 439.9,308.7 440.7,309.1 441.6,308.2 442.5,308.2 443.4,307.3 444.2,306.4 445.0,306.0 445.9,306.6 446.7,305.8 447.5,304.7 448.4,303.8 449.2,304.1 450.0,303.9 450.8,302.9 451.6,302.0 452.3,302.1 453.1,301.8 453.9,300.2 454.6,299.3 455.4,299.2 456.1,298.8 456.9,298.6 457.6,297.4 458.4,297.7 459.1,297.1 459.9,296.1 460.6,295.1 461.4,295.7 462.1,294.2 462.9,294.4 463.7,293.0 464.5,292.4 465.3,292.7 466.1,291.4 466.9,291.9 467.8,290.6 468.6,289.6 469.4,289.1 470.2,288.9 471.0,288.7 471.8,288.6 472.5,286.8 473.3,286.7 474.0,285.9 474.8,286.5 475.5,284.7 476.3,284.1 477.0,283.5 477.7,283.5 478.5,283.6 479.2,283.0 480.0,282.2 480.7,282.1 481.5,281.4 482.2,279.9 483.0,279.1 483.7,279.7 484.4,278.7 485.2,277.0 485.9,277.3 486.6,276.2 487.4,275.6 488.1,274.8 488.9,274.0 489.6,273.1 490.3,272.7 491.0,272.1 491.6,272.3 492.3,270.3 493.0,270.8 493.6,268.9 494.3,268.4 495.0,268.4 495.7,267.7 496.4,266.4 497.1,265.1 497.8,265.1 498.4,264.2 499.1,264.3 499.8,262.5 500.5,262.1 501.3,262.1 502.2,259.9 503.0,259.7 503.9,260.6 504.8,260.8 505.5,259.0 506.3,258.2 507.0,257.5 507.8,258.1 508.5,256.3 509.5,256.8 510.5,256.8 511.5,255.7 512.5,255.3 513.5,256.1 514.4,255.4 515.4,254.7 516.3,255.3 517.2,254.5 517.8,253.5 518.5,252.2 519.1,252.4 519.7,251.7 519.9,250.3 520.2,249.8 520.4,247.4 520.7,246.7 520.9,246.1 520.6,245.5 520.3,244.3 519.3,243.2 518.2,242.8 517.2,242.9 516.4,243.5 515.7,244.6 514.9,243.9 514.1,244.9" fill="none" stroke="#ff0000" stroke-width="2.2" stroke-linejoin="round"/>
<path d="M414.9,227.4L455.7,202.5" stroke="#111" stroke-width="1.1"/><path d="M460.4,199.6L456.2,205.2L456.1,202.2L453.5,200.8Z" fill="#111"/>
<path d="M411.8,279.8L377.5,299.2" stroke="#111" stroke-width="1.1"/><path d="M372.7,301.9L377.1,296.4L377.1,299.4L379.6,301.0Z" fill="#111"/>
<path d="M329.9,340.2L359.5,324.1" stroke="#111" stroke-width="1.1"/><path d="M364.3,321.5L359.8,326.9L359.9,323.9L357.3,322.3Z" fill="#111"/>
<path d="M442.6,314.3L405.2,333.7" stroke="#111" stroke-width="1.1"/><path d="M400.3,336.2L404.9,330.9L404.7,333.9L407.3,335.5Z" fill="#111"/>
<rect x="325.5" y="181.2" width="55" height="46" fill="#fff" stroke="#aaa" stroke-width="1"/>
<path d="M325.8,187.5H347" stroke="#ff00ff" stroke-width="1.3"/>
<text x="349.6" y="190.8" class="tl">1 Up</text>
<path d="M325.8,198.5H347" stroke="#000" stroke-width="1.3"/>
<text x="349.6" y="201.8" class="tl">1 Down</text>
<path d="M325.8,209.6H347" stroke="#00ee00" stroke-width="1.3"/>
<text x="349.6" y="212.9" class="tl">2 Up</text>
<path d="M325.8,220.6H347" stroke="#ff0000" stroke-width="1.3"/>
<text x="349.6" y="223.9" class="tl">2 Down</text>
</svg>
</body></html>
